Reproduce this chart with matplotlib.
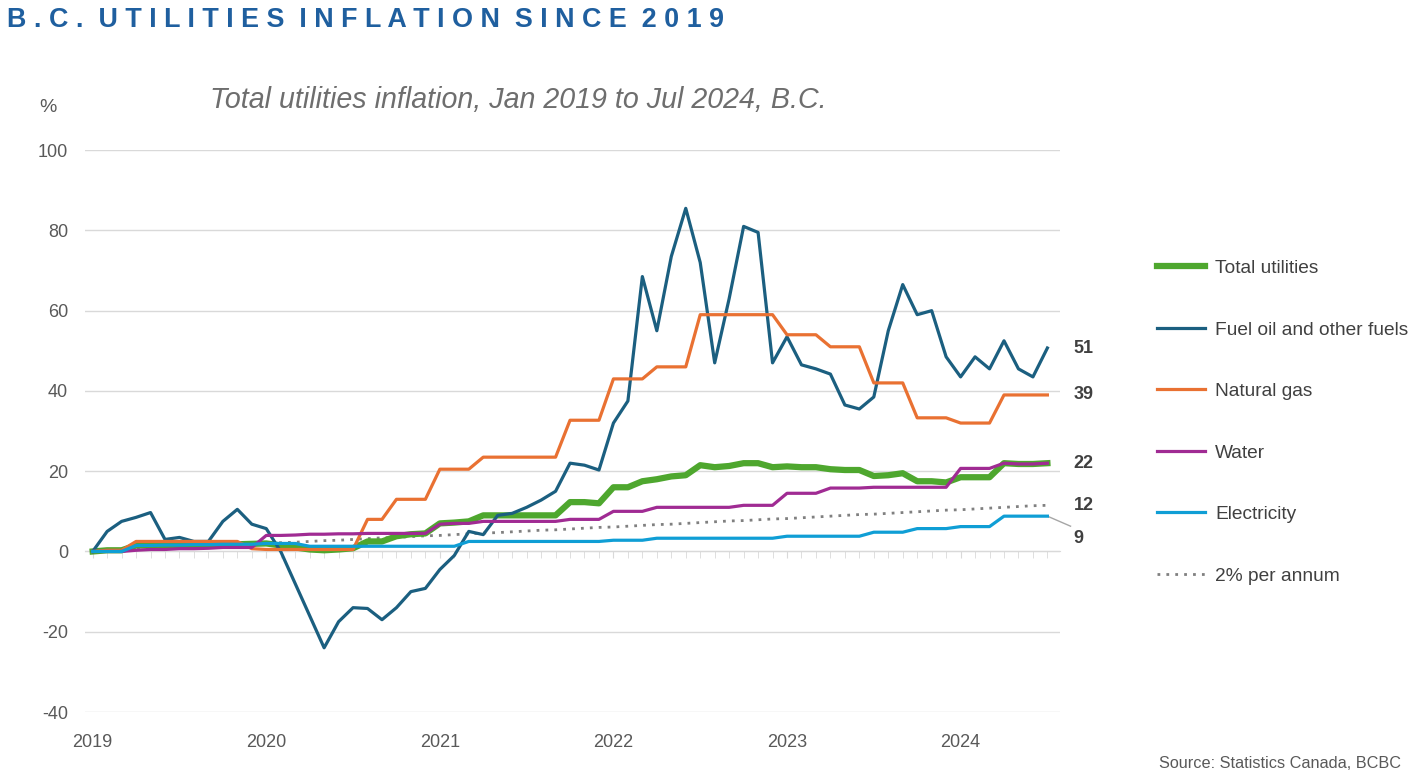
import matplotlib
matplotlib.use("Agg")
import matplotlib.pyplot as plt

plt.rcParams["font.family"] = ["Liberation Sans", "DejaVu Sans"]

years = ["2019", "2020", "2021", "2022", "2023", "2024"]

total = [0, 0.3, 0.3, 1.5, 1.5, 1.5, 1.5, 1.6, 1.6, 1.7, 1.8, 1.9,
         2, 1.5, 1, 0.5, 0.3, 0.5, 0.8, 2.5, 2.5, 3.8, 4.3, 4.5,
         7, 7.2, 7.5, 9, 9, 9, 9, 9, 9, 12.3, 12.3, 12,
         16, 16, 17.5, 18, 18.7, 19, 21.5, 21, 21.3, 22, 22, 21,
         21.2, 21, 21, 20.5, 20.3, 20.3, 18.8, 19, 19.5, 17.5, 17.5, 17.2,
         18.5, 18.5, 18.5, 22, 21.8, 21.8, 22]
fuel = [0, 5, 7.5, 8.5, 9.7, 3, 3.5, 2.5, 2.5, 7.5, 10.5, 6.8,
        5.7, 0, -8, -16, -24, -17.5, -14, -14.2, -17, -14, -10, -9.2,
        -4.5, -1, 5, 4.2, 9, 9.5, 11, 12.8, 15, 22, 21.5, 20.3,
        32, 37.5, 68.5, 55, 73.5, 85.5, 72, 47, 63, 81, 79.5, 47,
        53.5, 46.5, 45.5, 44.2, 36.5, 35.5, 38.5, 55, 66.5, 59, 60, 48.5,
        43.5, 48.5, 45.5, 52.5, 45.5, 43.5, 50.7]
gas = [0, 0.3, 0.3, 2.5, 2.5, 2.5, 2.5, 2.5, 2.5, 2.5, 2.5, 0.7,
       0.5, 0.5, 0.5, 0.5, 0.5, 0.5, 0.5, 8, 8, 13, 13, 13,
       20.5, 20.5, 20.5, 23.5, 23.5, 23.5, 23.5, 23.5, 23.5, 32.7, 32.7, 32.7,
       43, 43, 43, 46, 46, 46, 59, 59, 59, 59, 59, 59,
       54, 54, 54, 51, 51, 51, 42, 42, 42, 33.3, 33.3, 33.3,
       32, 32, 32, 39, 39, 39, 39]
water = [0, 0, 0, 0.3, 0.5, 0.5, 0.7, 0.7, 0.8, 1, 1, 1,
         4, 4, 4.1, 4.3, 4.3, 4.4, 4.4, 4.5, 4.5, 4.5, 4.5, 4.5,
         6.8, 7, 7, 7.5, 7.5, 7.5, 7.5, 7.5, 7.5, 8, 8, 8,
         10, 10, 10, 11, 11, 11, 11, 11, 11, 11.5, 11.5, 11.5,
         14.5, 14.5, 14.5, 15.8, 15.8, 15.8, 16, 16, 16, 16, 16, 16,
         20.7, 20.7, 20.7, 22, 21.8, 21.8, 22]
elec = [0, 0, 0, 1.5, 1.5, 1.6, 1.6, 1.7, 1.7, 1.8, 1.8, 1.8,
        2, 2, 2, 1.3, 1.3, 1.3, 1.3, 1.3, 1.3, 1.3, 1.3, 1.3,
        1.3, 1.3, 2.5, 2.5, 2.5, 2.5, 2.5, 2.5, 2.5, 2.5, 2.5, 2.5,
        2.8, 2.8, 2.8, 3.3, 3.3, 3.3, 3.3, 3.3, 3.3, 3.3, 3.3, 3.3,
        3.8, 3.8, 3.8, 3.8, 3.8, 3.8, 4.8, 4.8, 4.8, 5.7, 5.7, 5.7,
        6.2, 6.2, 6.2, 8.8, 8.8, 8.8, 8.8]
trend = [0.0, 0.2, 0.3, 0.5, 0.7, 0.8, 1.0, 1.2, 1.3, 1.5, 1.7, 1.8,
         2.0, 2.2, 2.3, 2.5, 2.7, 2.8, 3.0, 3.2, 3.4, 3.5, 3.7, 3.9,
         4.0, 4.2, 4.4, 4.6, 4.7, 4.9, 5.1, 5.3, 5.4, 5.6, 5.8, 6.0,
         6.1, 6.3, 6.5, 6.7, 6.8, 7.0, 7.2, 7.4, 7.6, 7.7, 7.9, 8.1,
         8.2, 8.4, 8.6, 8.8, 9.0, 9.2, 9.3, 9.5, 9.7, 9.9, 10.1, 10.3,
         10.4, 10.6, 10.8, 11.0, 11.2, 11.4, 11.5]
end_labels = ["51", "39", "22", "12", "9"]
yticks = [-40, -20, 0, 20, 40, 60, 80, 100]

BLUE = "#1F5F9F"
fig = plt.figure(figsize=(14.12, 7.82), dpi=100)
ax = fig.add_axes([0.060, 0.0895, 0.691, 0.7185])
x = list(range(len(total)))

h_tot, = ax.plot(x, total, color="#4EA72E", lw=4.5, label="Total utilities", zorder=3)
h_fuel, = ax.plot(x, fuel, color="#1B5F80", lw=2.3, label="Fuel oil and other fuels", zorder=4)
h_gas, = ax.plot(x, gas, color="#E97132", lw=2.3, label="Natural gas", zorder=4)
h_wat, = ax.plot(x, water, color="#A02B93", lw=2.3, label="Water", zorder=4)
h_ele, = ax.plot(x, elec, color="#0F9ED5", lw=2.3, label="Electricity", zorder=4)
h_tr, = ax.plot(x, trend, color="#808080", lw=2, ls=(0, (1, 2.2)), label="2% per annum", zorder=2)

ax.set_xlim(-0.55, 66.9)
ax.set_ylim(-40, 100)
ax.set_yticks(yticks)
ax.set_yticklabels([str(v) for v in yticks])
ax.tick_params(axis="y", length=0, labelsize=13, labelcolor="#595959", pad=12)
ax.grid(axis="y", color="#D9D9D9", lw=1)
ax.set_axisbelow(True)
for s in ["top", "right", "left"]:
    ax.spines[s].set_visible(False)
ax.spines["bottom"].set_position(("data", 0))
ax.spines["bottom"].set_color("#D9D9D9")
ax.set_xticks([i * 12 for i in range(len(years))])
ax.set_xticks(x, minor=True)
ax.set_xticklabels([])
ax.tick_params(axis="x", which="both", direction="out", length=5, color="#D9D9D9")
for i, yl in enumerate(years):
    ax.text(i * 12, -45.5, yl, ha="center", va="top", fontsize=13, color="#595959")

ends = [fuel[-1], gas[-1], total[-1], trend[-1], elec[-1]]
offs = [0, 0, 0, 0, -5.5]
for v, lab, o in zip(ends, end_labels, offs):
    ax.text(67.8, v + o, lab, ha="left", va="center", fontsize=13, fontweight="bold", color="#404040", clip_on=False)
ax.plot([66, 67.6], [elec[-1], elec[-1] - 2.5], color="#A6A6A6", lw=1, clip_on=False)

leg = fig.legend(handles=[h_tot, h_fuel, h_gas, h_wat, h_ele, h_tr],
                 loc="upper left", bbox_to_anchor=(0.807, 0.69), frameon=False,
                 fontsize=13.8, labelspacing=2.3, handlelength=2.5, handletextpad=0.55)
for t in leg.get_texts():
    t.set_color("#404040")

fig.text(0.005, 0.975, "B . C .  U T I L I T I E S  I N F L A T I O N  S I N C E  2 0 1 9",
         fontsize=19.4, fontweight="bold", color=BLUE, ha="left", va="center")
fig.text(0.367, 0.872, "Total utilities inflation, Jan 2019 to Jul 2024, B.C.",
         fontsize=20.6, style="italic", color="#6E6E6E", ha="center", va="center")
fig.text(0.034, 0.862, "%", fontsize=14, color="#595959", ha="center", va="center")
fig.text(0.992, 0.014, "Source: Statistics Canada, BCBC", fontsize=11.7, color="#595959", ha="right", va="bottom")

fig.savefig("out.png", dpi=100)
